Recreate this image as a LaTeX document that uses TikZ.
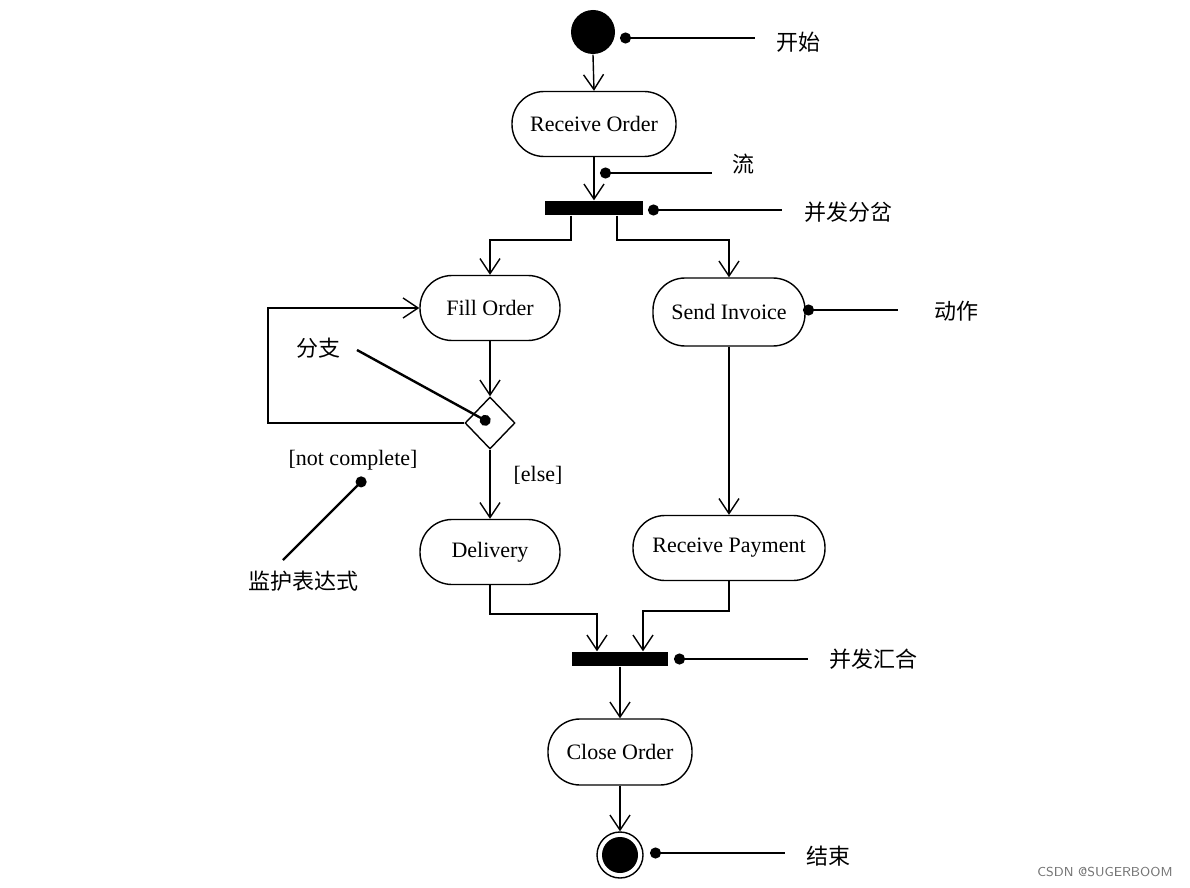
\documentclass[tikz,border=0pt]{standalone}
\usepackage{fontspec}
\setmainfont{Liberation Serif}
\newfontfamily\cjk{Noto Sans CJK SC}
\usetikzlibrary{arrows.meta,shapes.geometric}
\begin{document}
\begin{tikzpicture}[x=0.5pt,y=-0.5pt,
  line width=0.7pt,
  act/.style={draw,rounded corners=16pt,minimum height=32.5pt,inner sep=0pt,font=\fontsize{11}{13}\selectfont},
  bar/.style={fill=black,inner sep=0pt,minimum height=7pt},
  flow/.style={-{Straight Barb[length=7.5pt,width=10pt]}},
  note/.style={line width=1.2pt,{Circle[length=5.5pt]}-},
  lab/.style={font=\cjk\fontsize{11}{13}\selectfont},
  txt/.style={font=\fontsize{11}{13}\selectfont}]
\useasboundingbox (0,0) rectangle (1190,888);

% nodes
\node[circle,fill=black,minimum size=22pt,inner sep=0pt] (start) at (593,32) {};
\node[act,minimum width=82pt] (recv) at (594,124) {Receive Order};
\node[bar,minimum width=49pt] (fork) at (594,208) {};
\node[act,minimum width=70pt] (fill) at (490,308) {Fill Order};
\node[act,minimum width=76pt,minimum height=34pt] (send) at (729,312) {Send Invoice};
\node[draw,diamond,minimum width=25pt,minimum height=26pt,inner sep=0pt] (dec) at (490,423) {};
\node[act,minimum width=70pt] (deliv) at (490,552) {Delivery};
\node[act,minimum width=96pt] (pay) at (729,548) {Receive Payment};
\node[bar,minimum width=48pt] (join) at (620,659) {};
\node[act,minimum width=72pt,minimum height=33pt] (close) at (620,752) {Close Order};
\node[circle,draw,minimum size=23pt,inner sep=0pt] (end) at (620,855) {};
\fill (end.center) circle (9pt);

% labels
\node[lab] (lstart) at (798,42) {开始};
\node[lab] (lflow) at (743,164) {流};
\node[lab] (lfork) at (848,212) {并发分岔};
\node[lab] (lact) at (956,311) {动作};
\node[lab] (lbr) at (318,348) {分支};
\node[txt] (lelse) at (538,475) {[else]};
\node[txt] (lnc) at (353,460) {[not complete]};
\node[lab] (lguard) at (303,581) {监护表达式};
\node[lab] (ljoin) at (873,659) {并发汇合};
\node[lab] (lend) at (828,856) {结束};
\node[font=\sffamily\fontsize{6.5}{8}\selectfont,text=black!55] (wm) at (1105,872) {CSDN @SUGERBOOM};

% flows
\draw[flow] (start.south) -- (recv.north);
\draw[flow] (recv.south) -- (fork.north);
\draw[flow] (fork.south -| 571,0) |- (490,240) -- (fill.north);
\draw[flow] (fork.south -| 617,0) |- (729,240) -- (send.north);
\draw[flow] (fill.south) -- (dec.north);
\draw[flow] (dec.west) -| (268,308) -- (fill.west);
\draw[flow] (dec.south) -- (deliv.north);
\draw[flow] (send.south) -- (pay.north);
\draw[flow] (deliv.south) |- (597,614) -- (join.north -| 597,0);
\draw[flow] (pay.south) |- (643,611) -- (join.north -| 643,0);
\draw[flow] (join.south) -- (close.north);
\draw[flow] (close.south) -- (end.north);

% annotations
\coordinate (a1) at (755,38);
\draw[note] (620,38) -- (a1);
\coordinate (a2) at (712,173);
\draw[note] (600,173) -- (a2);
\coordinate (a3) at (782,210);
\draw[note] (648,210) -- (a3);
\coordinate (a4) at (898,310);
\draw[note] (803,310) -- (a4);
\coordinate (a5) at (357,350);
\draw[note] (dec.center) -- (a5);
\coordinate (a6) at (283,560);
\draw[note] (365,478) -- (a6);
\coordinate (a7) at (808,659);
\draw[note] (674,659) -- (a7);
\coordinate (a8) at (785,853);
\draw[note] (650,853) -- (a8);
\end{tikzpicture}
\end{document}
